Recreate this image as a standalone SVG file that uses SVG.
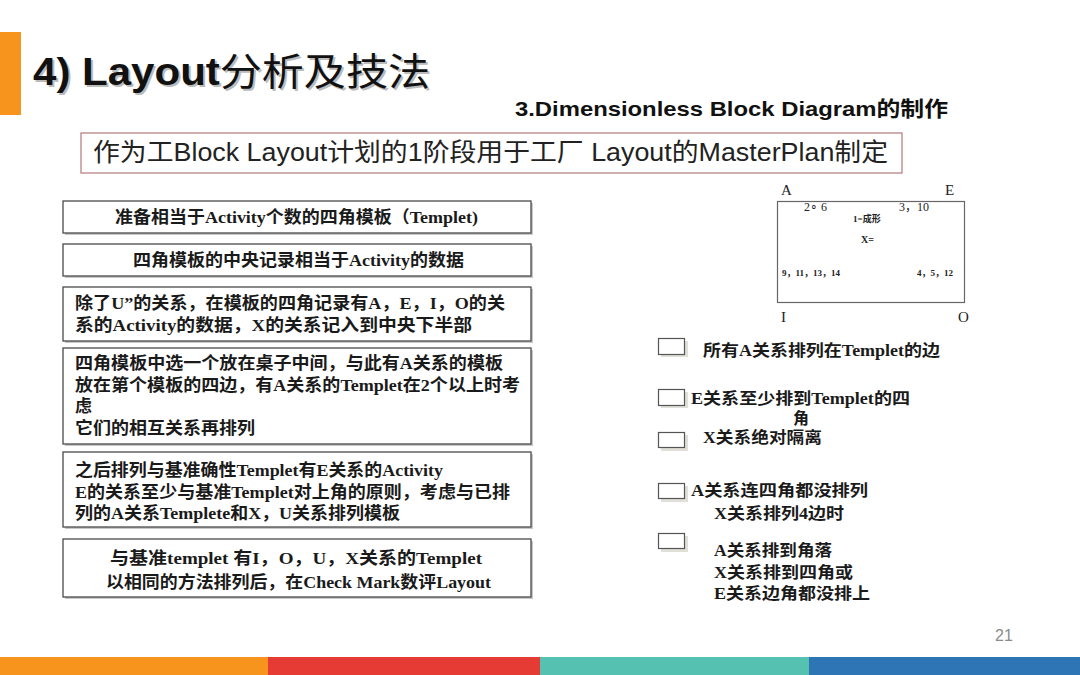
<svg xmlns="http://www.w3.org/2000/svg" width="1080" height="675" viewBox="0 0 1080 675">
<defs>
<style>
.ttl{font-family:"Liberation Sans","Noto Sans CJK SC",sans-serif;fill:#111}
.bx{fill:#fff;stroke:#4a4a4a;stroke-width:1.3}
.sh{fill:#c8c8c8}
.t{font-family:"Liberation Serif","Noto Sans CJK SC",serif;font-weight:bold;font-size:17px;fill:#1a1a1a}
.r{font-family:"Liberation Serif","Noto Sans CJK SC",serif;font-weight:bold;font-size:16px;fill:#1a1a1a}
.s{font-family:"Liberation Serif","Noto Sans CJK SC",serif;fill:#222}
.cb{fill:#fff;stroke:#555;stroke-width:1.2}
.cbs{fill:#e0e0d8}
</style>
</defs>
<rect width="1080" height="675" fill="#fff"/>
<!-- header -->
<rect x="0" y="32" width="21" height="83" fill="#F7941D"/>
<text class="ttl" x="35" y="87" font-size="38" fill="#bbb" style="fill:#bbb" textLength="397" lengthAdjust="spacingAndGlyphs"><tspan font-weight="bold">4) Layout</tspan><tspan>分析及技法</tspan></text>
<text class="ttl" x="33" y="85" font-size="38" textLength="397" lengthAdjust="spacingAndGlyphs"><tspan font-weight="bold">4) Layout</tspan><tspan>分析及技法</tspan></text>
<text class="ttl" x="515" y="116" font-size="21" font-weight="bold" textLength="433" lengthAdjust="spacingAndGlyphs">3.Dimensionless Block Diagram的制作</text>
<g id="plan">
<rect x="81" y="133" width="821" height="40" fill="#fff" stroke="#b07a7a" stroke-width="1.2"/>
<text class="ttl" x="93" y="161" font-size="25" style="fill:#222" textLength="795" lengthAdjust="spacingAndGlyphs">作为工Block Layout计划的1阶段用于工厂 Layout的MasterPlan制定</text>
</g>
<!-- left steps -->
<g id="step1">
<rect class="sh" x="65" y="203" width="468" height="32"/>
<rect class="bx" x="63" y="201" width="468" height="32"/>
<text class="t" x="115" y="223" textLength="363" lengthAdjust="spacingAndGlyphs">准备相当于Activity个数的四角模板（Templet)</text>
</g>
<g id="step2">
<rect class="sh" x="65" y="246" width="468" height="32"/>
<rect class="bx" x="63" y="244" width="468" height="32"/>
<text class="t" x="133" y="266" textLength="331" lengthAdjust="spacingAndGlyphs">四角模板的中央记录相当于Activity的数据</text>
</g>
<g id="step3">
<rect class="sh" x="65" y="289" width="468" height="54"/>
<rect class="bx" x="63" y="287" width="468" height="54"/>
<text class="t" x="75" y="309" textLength="430" lengthAdjust="spacingAndGlyphs">除了U”的关系，在模板的四角记录有A，E，I，O的关</text>
<text class="t" x="75" y="331" textLength="397" lengthAdjust="spacingAndGlyphs">系的Activity的数据，X的关系记入到中央下半部</text>
</g>
<g id="step4">
<rect class="sh" x="65" y="350" width="468" height="96"/>
<rect class="bx" x="63" y="348" width="468" height="96"/>
<text class="t" x="75" y="369" textLength="428" lengthAdjust="spacingAndGlyphs">四角模板中选一个放在桌子中间，与此有A关系的模板</text>
<text class="t" x="75" y="391" textLength="445" lengthAdjust="spacingAndGlyphs">放在第个模板的四边，有A关系的Templet在2个以上时考</text>
<text class="t" x="75" y="412">虑</text>
<text class="t" x="75" y="434" textLength="180" lengthAdjust="spacingAndGlyphs">它们的相互关系再排列</text>
</g>
<g id="step5">
<rect class="sh" x="65" y="454" width="468" height="75"/>
<rect class="bx" x="63" y="452" width="468" height="75"/>
<text class="t" x="75" y="476" textLength="368" lengthAdjust="spacingAndGlyphs">之后排列与基准确性Templet有E关系的Activity</text>
<text class="t" x="75" y="498" textLength="435" lengthAdjust="spacingAndGlyphs">E的关系至少与基准Templet对上角的原则，考虑与已排</text>
<text class="t" x="75" y="519" textLength="325" lengthAdjust="spacingAndGlyphs">列的A关系Templete和X，U关系排列模板</text>
</g>
<g id="step6">
<rect class="sh" x="65" y="541" width="468" height="58"/>
<rect class="bx" x="63" y="539" width="468" height="58"/>
<text class="t" x="110" y="564" font-size="18" textLength="372" lengthAdjust="spacingAndGlyphs">与基准templet  有I，O，U，X关系的Templet</text>
<text class="t" x="106" y="588" textLength="385" lengthAdjust="spacingAndGlyphs">以相同的方法排列后，在Check Mark数评Layout</text>
</g>
<!-- templet diagram -->
<g id="templet">
<rect x="777.5" y="201.5" width="187" height="101" fill="#fff" stroke="#666" stroke-width="1.2"/>
<text class="s" x="781" y="195" font-size="15">A</text>
<text class="s" x="945" y="195" font-size="15">E</text>
<text class="s" x="781" y="322" font-size="15">I</text>
<text class="s" x="958" y="322" font-size="15">O</text>
<text class="s" x="804" y="211" font-size="12">2∘ 6</text>
<text class="s" x="899" y="211" font-size="12">3，10</text>
<text class="s" x="853" y="222" font-size="9" font-weight="bold">1=成形</text>
<text class="s" x="861" y="243" font-size="10" font-weight="bold">X=</text>
<text class="s" x="782" y="276" font-size="9" font-weight="bold">9，11，13，14</text>
<text class="s" x="917" y="276" font-size="9" font-weight="bold">4，5，12</text>
</g>
<!-- checklist -->
<g id="check1">
<rect class="cbs" x="661" y="341" width="27" height="16"/>
<rect class="cb" x="658.5" y="338.5" width="26" height="16"/>
<text class="r" x="703" y="356" textLength="237" lengthAdjust="spacingAndGlyphs">所有A关系排列在Templet的边</text>
</g>
<g id="check2">
<rect class="cbs" x="661" y="392" width="27" height="16"/>
<rect class="cb" x="658.5" y="389.5" width="26" height="16"/>
<text class="r" x="691" y="404" textLength="219" lengthAdjust="spacingAndGlyphs">E关系至少排到Templet的四</text>
<text class="r" x="793" y="424">角</text>
</g>
<g id="check3">
<rect class="cbs" x="661" y="435" width="27" height="16"/>
<rect class="cb" x="658.5" y="432.5" width="26" height="15"/>
<text class="r" x="703" y="443" textLength="119" lengthAdjust="spacingAndGlyphs">X关系绝对隔离</text>
</g>
<g id="check4">
<rect class="cbs" x="661" y="486" width="27" height="16"/>
<rect class="cb" x="658.5" y="483.5" width="26" height="15"/>
<text class="r" x="691" y="496" textLength="177" lengthAdjust="spacingAndGlyphs">A关系连四角都没排列</text>
<text class="r" x="714" y="519" textLength="130" lengthAdjust="spacingAndGlyphs">X关系排列4边时</text>
</g>
<g id="check5">
<rect class="cbs" x="661" y="536" width="27" height="16"/>
<rect class="cb" x="658.5" y="533.5" width="26" height="15"/>
<text class="r" x="714" y="556" textLength="118" lengthAdjust="spacingAndGlyphs">A关系排到角落</text>
<text class="r" x="714" y="578" textLength="139" lengthAdjust="spacingAndGlyphs">X关系排到四角或</text>
<text class="r" x="714" y="599" textLength="156" lengthAdjust="spacingAndGlyphs">E关系边角都没排上</text>
</g>
<!-- footer -->
<text x="995" y="641" font-family="Liberation Sans, sans-serif" font-size="16" fill="#8a8a8a">21</text>
<rect x="0" y="657" width="268" height="18" fill="#F7941D"/>
<rect x="268" y="657" width="272" height="18" fill="#E63A35"/>
<rect x="540" y="657" width="269" height="18" fill="#55C1B0"/>
<rect x="809" y="657" width="271" height="18" fill="#2E75B6"/>
</svg>
